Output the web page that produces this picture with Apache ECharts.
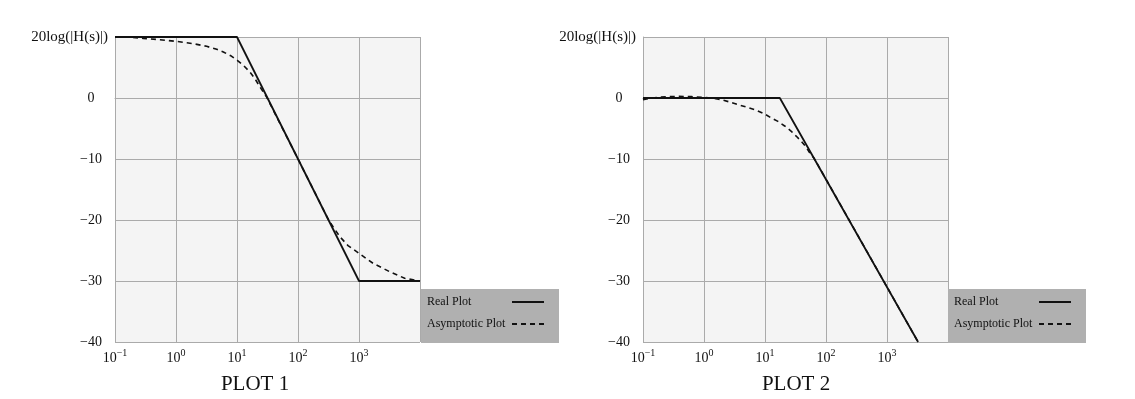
<!DOCTYPE html>
<html>
<head>
    <meta charset="utf-8">
    <title>Bode plots</title>
    <script src="https://cdn.jsdelivr.net/npm/echarts@6/dist/echarts.min.js"></script>
    <style>
        html, body { margin: 0; padding: 0; background: #fff; }
    </style>
</head>
<body>
    <div id="main" style="width: 1135px;height:399px;"></div>
    <script type="text/javascript">
        // plot 1
        var p1RealX = [0.1, 10, 1000, 10000];
        var p1RealY = [10, 10, -30, -30];
        var p1AsymX = [0.1, 0.176, 0.291, 0.547, 1, 1.92, 3.18, 4.65, 5.97, 7.87, 10.1, 12.7, 16.3, 19.7, 23.8, 30.6, 100, 310, 375, 482, 661, 1000, 1698, 3184, 5610, 10000];
        var p1AsymY = [10, 9.95, 9.78, 9.56, 9.29, 8.91, 8.47, 7.98, 7.54, 6.94, 6.17, 5.36, 4.26, 3.17, 1.8, 0.16, -10, -19.8, -21.1, -22.7, -24.2, -25.46, -27.1, -28.47, -29.56, -30];
        // plot 2
        var p2RealX = [0.1, 17.5, 3236];
        var p2RealY = [0, 0, -40];
        var p2AsymX = [0.1, 0.137, 0.176, 0.257, 0.375, 0.62, 1, 1.41, 1.92, 2.64, 3.61, 4.94, 6.76, 9.9, 12.7, 16.3, 21, 27, 32.7, 39.4, 47.6, 54, 63.5, 100, 3236];
        var p2AsymY = [-0.27, 0, 0.11, 0.22, 0.27, 0.22, 0.11, -0.05, -0.27, -0.66, -1.09, -1.48, -1.91, -2.62, -3.28, -3.83, -4.59, -5.46, -6.28, -7.1, -8.09, -9.0, -9.85, -13.3, -40];

        var yTicks = [-40, -30, -20, -10, 0, 10];
        var yName = '20log(|H(s)|)';
        var plotTitles = ['PLOT 1', 'PLOT 2'];
        var legendNames = ['Real Plot', 'Asymptotic Plot'];

        var font = 'Liberation Serif';
        var gridColor = '#aaaaaa';

        function pairs(xs, ys) {
            return xs.map(function (x, i) { return [x, ys[i]]; });
        }

        function xAxis(idx) {
            return {
                type: 'log', logBase: 10, gridIndex: idx,
                min: 0.1, max: 10000, splitNumber: 5,
                axisLine: { lineStyle: { color: gridColor } },
                axisTick: { show: false },
                splitLine: { show: true, lineStyle: { color: gridColor, width: 1 } },
                axisLabel: {
                    margin: 6,
                    showMinLabel: true,
                    formatter: function (v) {
                        var e = Math.round(Math.log(v) / Math.LN10);
                        if (e >= 4) return '';
                        return '{b|10}{s|' + String(e).replace('-', '\u2212') + '}';
                    },
                    rich: {
                        b: { fontFamily: font, fontSize: 14, lineHeight: 17, color: '#111', verticalAlign: 'bottom' },
                        s: { fontFamily: font, fontSize: 10, lineHeight: 10, color: '#111', verticalAlign: 'top' }
                    }
                }
            };
        }

        function yAxis(idx) {
            return {
                type: 'value', gridIndex: idx,
                min: yTicks[0], max: yTicks[yTicks.length - 1], interval: 10,
                name: yName, nameLocation: 'end', nameGap: 0,
                nameTextStyle: {
                    fontFamily: font, fontSize: 15, color: '#111',
                    align: 'right', verticalAlign: 'middle', padding: [0, 7, 0, 0]
                },
                axisLine: { show: true, lineStyle: { color: gridColor } },
                axisTick: { show: false },
                splitLine: { lineStyle: { color: gridColor, width: 1 } },
                axisLabel: {
                    margin: 24, align: 'center',
                    fontFamily: font, fontSize: 14, color: '#111',
                    formatter: function (v) {
                        if (v === 10) return '';
                        return String(v).replace('-', '\u2212');
                    }
                }
            };
        }

        function legend(left) {
            return {
                left: left, top: 289, orient: 'vertical', align: 'right',
                backgroundColor: '#b0b0b0', borderRadius: 0,
                padding: [7, 14, 13, 6], itemGap: 10,
                itemWidth: 32, itemHeight: 12,
                selectedMode: false,
                itemStyle: { opacity: 0 },
                data: legendNames,
                formatter: function (n) { return '{n|' + n + '}'; },
                textStyle: {
                    fontFamily: font, fontSize: 12, color: '#111',
                    rich: { n: { fontFamily: font, fontSize: 12, color: '#111', width: 80, align: 'left' } }
                }
            };
        }

        function line(name, idx, data, dashed) {
            return {
                name: name, type: 'line', xAxisIndex: idx, yAxisIndex: idx,
                data: data, symbol: 'none', animation: false,
                z: dashed ? 2 : 3,
                lineStyle: dashed
                    ? { color: '#111', width: 1.6, type: [5, 4] }
                    : { color: '#111', width: 1.8 },
                itemStyle: { color: '#111' }
            };
        }

        var myChart = echarts.init(document.getElementById('main'), null, { renderer: 'canvas' });
        var option = {
            backgroundColor: '#ffffff',
            animation: false,
            grid: [
                { left: 115, top: 37, width: 305, height: 305, show: true, backgroundColor: '#f4f4f4', borderWidth: 0 },
                { left: 643, top: 37, width: 305, height: 305, show: true, backgroundColor: '#f4f4f4', borderWidth: 0 }
            ],
            xAxis: [xAxis(0), xAxis(1)],
            yAxis: [yAxis(0), yAxis(1)],
            legend: [legend(421), legend(948)],
            graphic: [
                { type: 'text', x: 255, y: 384, style: { text: plotTitles[0], font: '21px "Liberation Serif"', fill: '#111', align: 'center', verticalAlign: 'middle' } },
                { type: 'text', x: 796, y: 384, style: { text: plotTitles[1], font: '21px "Liberation Serif"', fill: '#111', align: 'center', verticalAlign: 'middle' } }
            ],
            series: [
                line(legendNames[0], 0, pairs(p1RealX, p1RealY), false),
                line(legendNames[1], 0, pairs(p1AsymX, p1AsymY), true),
                line(legendNames[0], 1, pairs(p2RealX, p2RealY), false),
                line(legendNames[1], 1, pairs(p2AsymX, p2AsymY), true)
            ]
        };
        myChart.setOption(option);
    </script>
</body>
</html>
